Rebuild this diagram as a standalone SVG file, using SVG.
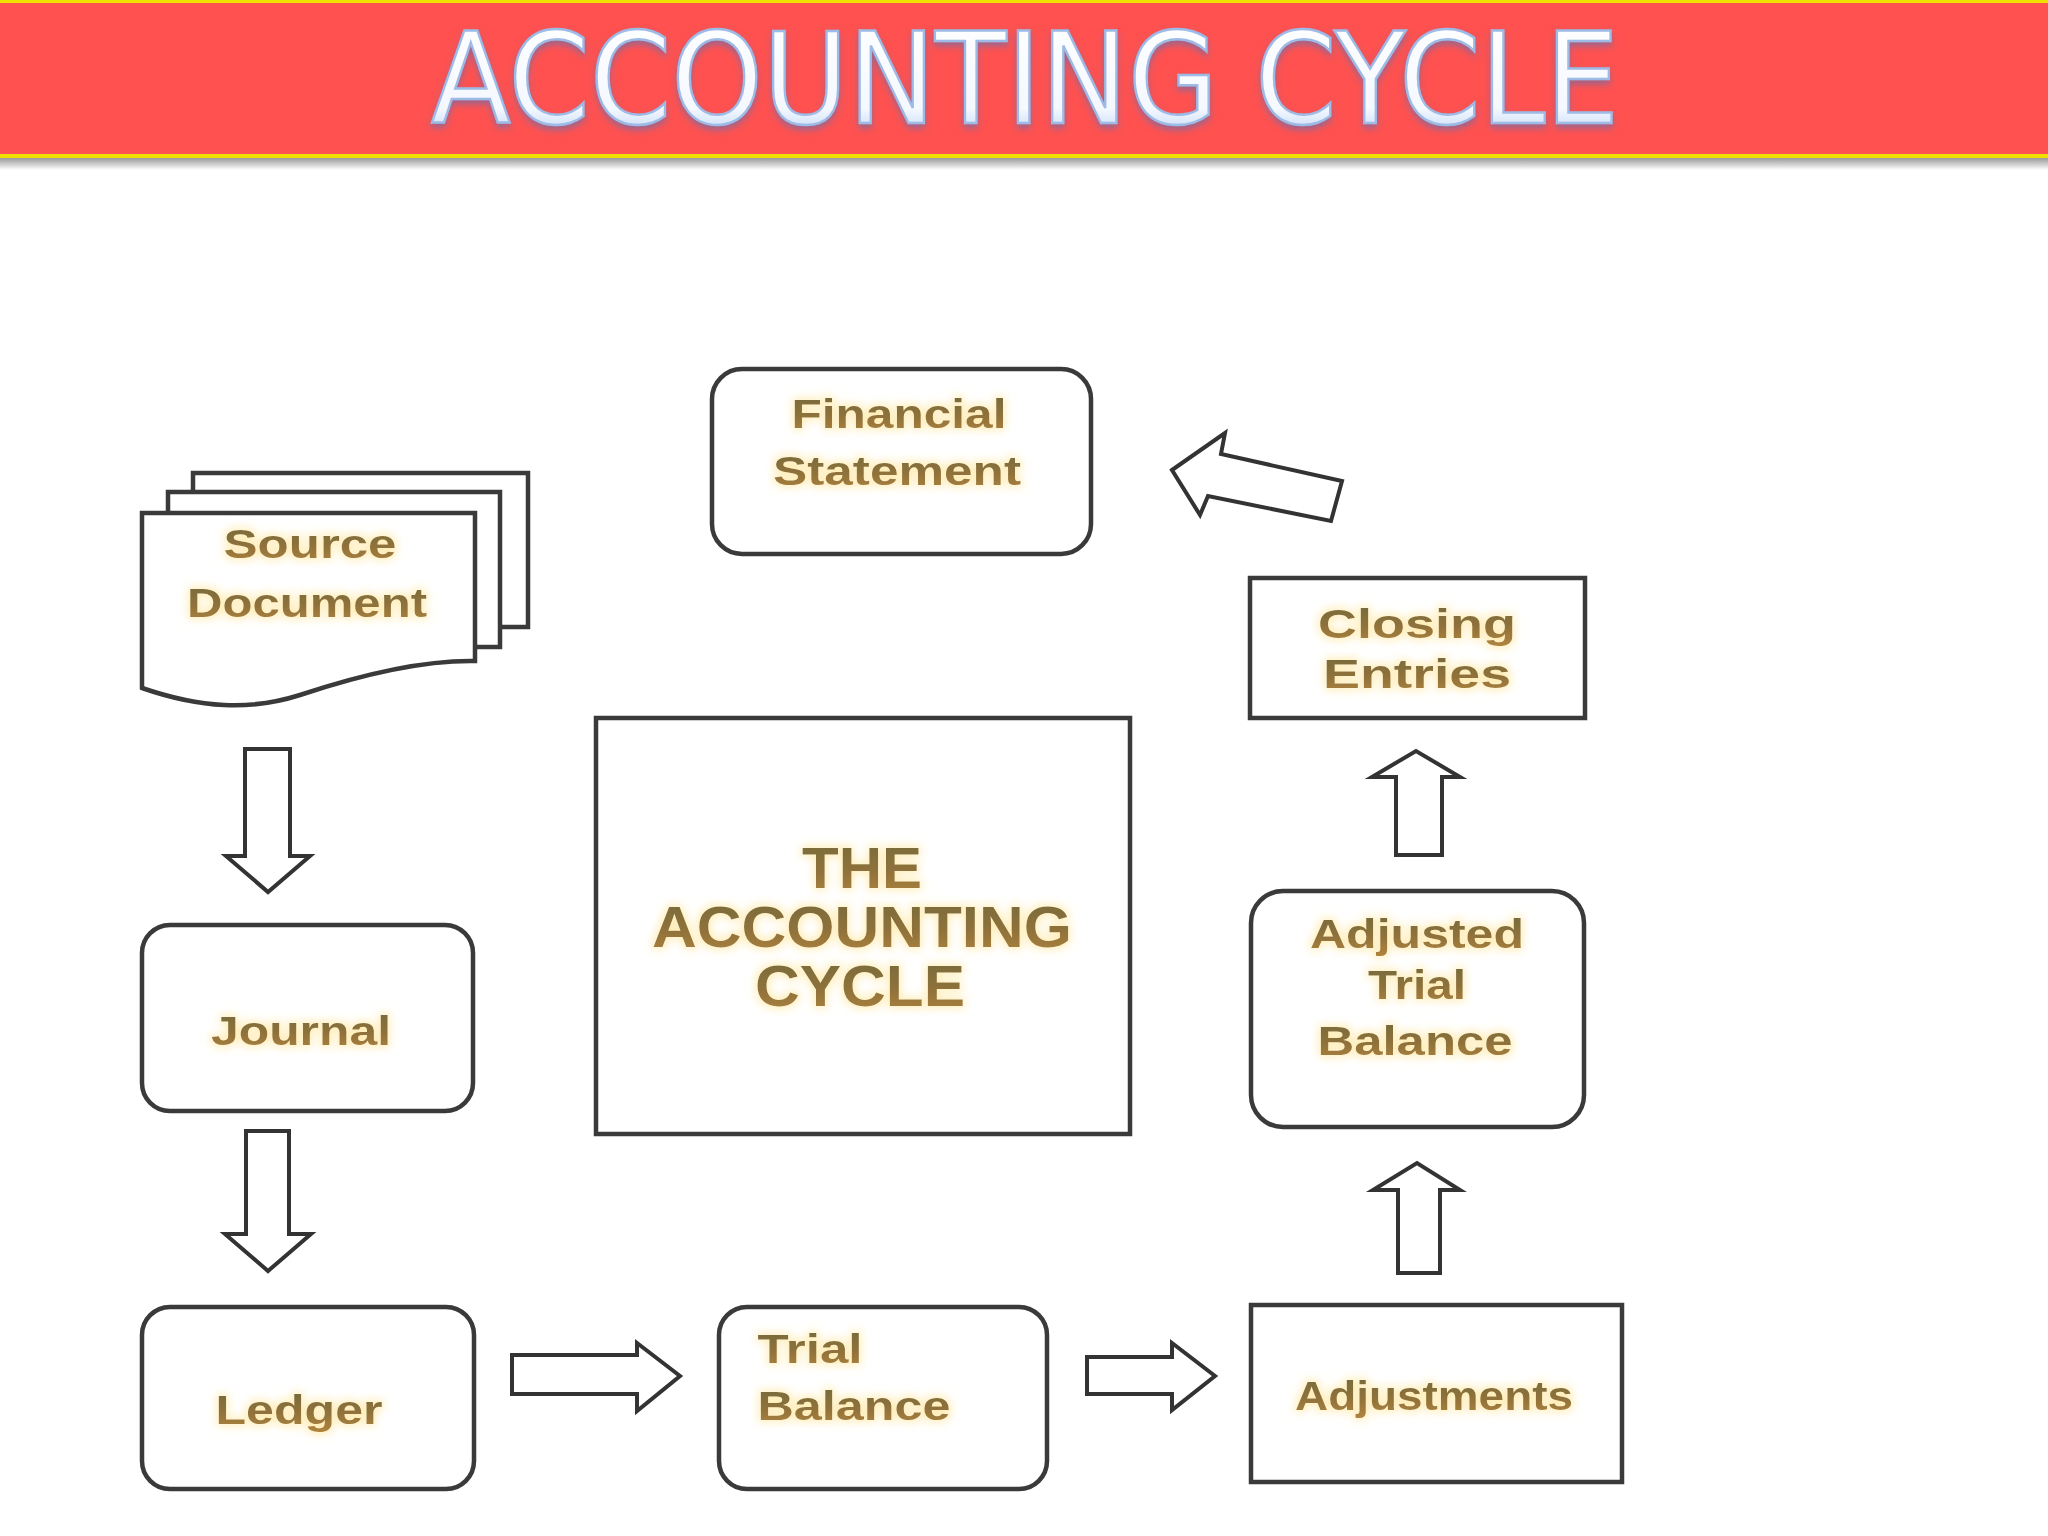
<svg xmlns="http://www.w3.org/2000/svg" width="2048" height="1536" viewBox="0 0 2048 1536">
<defs>
<linearGradient id="hdrShadow" x1="0" y1="0" x2="0" y2="1">
<stop offset="0" stop-color="#9a9a9a"/>
<stop offset="1" stop-color="#ffffff"/>
</linearGradient>
<linearGradient id="txtGrad" x1="0" y1="0" x2="0" y2="1">
<stop offset="0" stop-color="#736a3c"/>
<stop offset="0.55" stop-color="#8f713a"/>
<stop offset="1" stop-color="#b0843e"/>
</linearGradient>
<linearGradient id="titleGrad" x1="0" y1="0" x2="0" y2="1">
<stop offset="0" stop-color="#ffffff"/>
<stop offset="0.7" stop-color="#f4f8ff"/>
<stop offset="1" stop-color="#9fc0ee"/>
</linearGradient>
<filter id="glow" x="-10%" y="-40%" width="120%" height="180%">
<feMorphology in="SourceAlpha" operator="dilate" radius="2" result="d"/>
<feGaussianBlur in="d" stdDeviation="5" result="b"/>
<feFlood flood-color="#ffe7a0" flood-opacity="0.75"/>
<feComposite in2="b" operator="in" result="g"/>
<feMerge><feMergeNode in="g"/><feMergeNode in="SourceGraphic"/></feMerge>
</filter>
<filter id="titleShadow" x="-5%" y="-20%" width="110%" height="150%">
<feDropShadow dx="0" dy="4" stdDeviation="3" flood-color="#4a78c0" flood-opacity="0.55"/>
</filter>
<style>
.box { fill: #ffffff; stroke: #3a3a3a; stroke-width: 4.5; }
.arrow { fill: #ffffff; stroke: #333333; stroke-width: 4; stroke-linejoin: miter; }
.lbl { font-family: "Liberation Sans", Arial, sans-serif; font-weight: bold; font-size: 40px; fill: url(#txtGrad); text-anchor: middle; filter: url(#glow); }
.big { font-size: 58px; }
.title { font-family: "Comic Sans MS", "DejaVu Sans", sans-serif; font-size: 126px; fill: url(#titleGrad); stroke: #9dbbe6; stroke-width: 2.5; text-anchor: middle; filter: url(#titleShadow); }
</style>
</defs>

<rect x="0" y="0" width="2048" height="1536" fill="#ffffff"/>

<g id="header">
<rect x="0" y="158" width="2048" height="12" fill="url(#hdrShadow)"/>
<rect x="0" y="0" width="2048" height="158" fill="#fe5150"/>
<rect x="0" y="0" width="2048" height="3" fill="#f0e000"/>
<rect x="0" y="154" width="2048" height="4" fill="#f0e000"/>
<text class="title" x="1025" y="123" textLength="1188" lengthAdjust="spacingAndGlyphs">ACCOUNTING CYCLE</text>
</g>

<g id="connectors">
<path class="arrow" d="M245,749 H290 V856 H310 L268,892 L226,856 H245 Z"/>
<path class="arrow" d="M246,1131 H289 V1234 H311 L268,1271 L225,1234 H246 Z"/>
<path class="arrow" d="M512,1355 H637 V1343 L680,1376 L637,1411 V1394 H512 Z"/>
<path class="arrow" d="M1087,1357 H1172 V1343 L1215,1376 L1172,1410 V1394 H1087 Z"/>
<path class="arrow" d="M1398,1273 H1440 V1190 H1460 L1417,1163 L1373,1190 H1398 Z"/>
<path class="arrow" d="M1396,855 H1442 V777 H1460 L1416,751 L1372,777 H1396 Z"/>
<path class="arrow" d="M1172,470 L1225,433 L1221,454 L1342,481 L1331,521 L1208,496 L1200,515 Z"/>
</g>

<g id="source-document">
<rect class="box" x="193" y="473" width="335" height="154"/>
<rect class="box" x="168" y="492" width="332" height="155"/>
<path class="box" d="M142,513 H475 V661 C420,660 360,675 300,695 C250,711 200,708 142,688 Z"/>
<text class="lbl" x="310" y="558" textLength="173" lengthAdjust="spacingAndGlyphs">Source</text>
<text class="lbl" x="307" y="617" textLength="240" lengthAdjust="spacingAndGlyphs">Document</text>
</g>

<g id="financial-statement">
<rect class="box" x="712" y="369" width="379" height="185" rx="30"/>
<text class="lbl" x="899" y="428" textLength="215" lengthAdjust="spacingAndGlyphs">Financial</text>
<text class="lbl" x="897" y="485" textLength="248" lengthAdjust="spacingAndGlyphs">Statement</text>
</g>

<g id="closing-entries">
<rect class="box" x="1250" y="578" width="335" height="140"/>
<text class="lbl" x="1417" y="638" textLength="198" lengthAdjust="spacingAndGlyphs">Closing</text>
<text class="lbl" x="1417" y="688" textLength="188" lengthAdjust="spacingAndGlyphs">Entries</text>
</g>

<g id="the-accounting-cycle">
<rect class="box" x="596" y="718" width="534" height="416"/>
<text class="lbl big" x="862" y="888" textLength="120" lengthAdjust="spacingAndGlyphs">THE</text>
<text class="lbl big" x="862" y="947" textLength="420" lengthAdjust="spacingAndGlyphs">ACCOUNTING</text>
<text class="lbl big" x="860" y="1006" textLength="210" lengthAdjust="spacingAndGlyphs">CYCLE</text>
</g>

<g id="journal">
<rect class="box" x="142" y="925" width="331" height="186" rx="28"/>
<text class="lbl" x="301" y="1045" textLength="180" lengthAdjust="spacingAndGlyphs">Journal</text>
</g>

<g id="adjusted-trial-balance">
<rect class="box" x="1251" y="891" width="333" height="236" rx="32"/>
<text class="lbl" x="1417" y="948" textLength="214" lengthAdjust="spacingAndGlyphs">Adjusted</text>
<text class="lbl" x="1417" y="999" textLength="98" lengthAdjust="spacingAndGlyphs">Trial</text>
<text class="lbl" x="1415" y="1055" textLength="195" lengthAdjust="spacingAndGlyphs">Balance</text>
</g>

<g id="ledger">
<rect class="box" x="142" y="1307" width="332" height="182" rx="28"/>
<text class="lbl" x="299" y="1424" textLength="167" lengthAdjust="spacingAndGlyphs">Ledger</text>
</g>

<g id="trial-balance">
<rect class="box" x="719" y="1307" width="328" height="182" rx="28"/>
<text class="lbl" x="810" y="1363" textLength="105" lengthAdjust="spacingAndGlyphs">Trial</text>
<text class="lbl" x="854" y="1420" textLength="193" lengthAdjust="spacingAndGlyphs">Balance</text>
</g>

<g id="adjustments">
<rect class="box" x="1251" y="1305" width="371" height="177"/>
<text class="lbl" x="1434" y="1410" textLength="278" lengthAdjust="spacingAndGlyphs">Adjustments</text>
</g>
</svg>
